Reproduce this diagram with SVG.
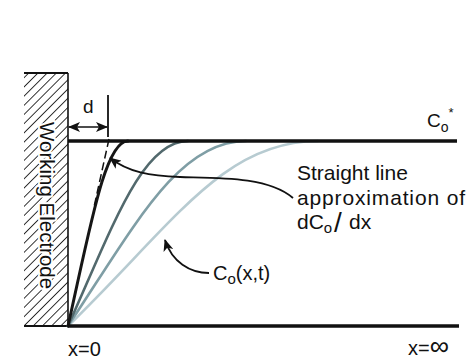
<svg xmlns="http://www.w3.org/2000/svg" width="474" height="363" viewBox="0 0 474 363">
<style>
text{font-family:"Liberation Sans",Arial,sans-serif;fill:#111}
.axis{stroke:#111;stroke-width:3.5;fill:none}
.curve{fill:none;stroke-linecap:round}
.lead{fill:none;stroke:#111;stroke-width:1.8}
</style>
<defs>
<pattern id="hatch" patternUnits="userSpaceOnUse" width="6.5" height="6.5" patternTransform="rotate(45)">
<line x1="0" y1="0" x2="0" y2="6.5" stroke="#111" stroke-width="1.7"/>
</pattern>
<marker id="ah" viewBox="0 0 12 10" refX="11" refY="5" markerWidth="12" markerHeight="10" markerUnits="userSpaceOnUse" orient="auto-start-reverse">
<path d="M0,0 L12,5 L0,10 L3,5 z" fill="#111"/>
</marker>
</defs>
<g id="electrode">
<rect x="24" y="73" width="44" height="253" fill="url(#hatch)"/>
<line x1="24" y1="73" x2="68" y2="73" stroke="#111" stroke-width="1.8"/>
<line x1="68" y1="73" x2="68" y2="326" stroke="#111" stroke-width="1.6"/>
<line x1="24" y1="326" x2="68" y2="326" stroke="#111" stroke-width="2"/>
<text transform="translate(40,122) rotate(90)" font-size="20.5" stroke="#fff" stroke-width="4" stroke-linejoin="round" paint-order="stroke">Working Electrode</text>
</g>
<g id="profiles">
<path class="curve" d="M68,326 C173,224.3 223,141 318,141" stroke="#b7cbd1" stroke-width="2.6"/>
<path class="curve" d="M68,326 C135.6,224.3 178.4,141 246,141" stroke="#7f9ea5" stroke-width="2.6"/>
<path class="curve" d="M68,326 C113.6,224.3 142.4,141 188,141" stroke="#52696d" stroke-width="2.6"/>
<path class="curve" d="M68,326 C90.8,224.3 105.2,141 128,141" stroke="#161616" stroke-width="3"/>
<line x1="109" y1="139" x2="94" y2="207" stroke="#111" stroke-width="1.5" stroke-dasharray="8,4"/>
</g>
<g id="axes">
<line class="axis" x1="68" y1="141" x2="457" y2="141"/>
<line class="axis" x1="68" y1="326" x2="459" y2="326"/>
</g>
<g id="d-marker">
<line x1="108" y1="95" x2="108" y2="137" stroke="#111" stroke-width="1.8"/>
<line x1="69" y1="127" x2="107" y2="127" stroke="#111" stroke-width="1.6" marker-start="url(#ah)" marker-end="url(#ah)"/>
<text x="83" y="113" font-size="19">d</text>
</g>
<g id="connectors">
<path class="lead" d="M293,198 C268,176 215,178 180,177 C150,176 128,172 110,158" marker-end="url(#ah)"/>
<path class="lead" d="M209,273 C190,273 172,262 165,240" marker-end="url(#ah)"/>
</g>
<g id="label-cstar">
<text x="427" y="127" font-size="19">C<tspan font-size="14" dy="5">o</tspan><tspan font-size="13" dy="-15">*</tspan></text>
</g>
<g id="label-approx">
<text x="297" y="180" font-size="21">Straight line</text>
<text x="297" y="205" font-size="21" textLength="168" lengthAdjust="spacing">approximation of</text>
<text x="297" y="229" font-size="21">dC<tspan font-size="15" dy="4">o</tspan></text>
<text x="334" y="232" font-size="28">/</text>
<text x="349" y="229" font-size="21">dx</text>
</g>
<g id="label-cxt">
<text x="213" y="280" font-size="20">C<tspan font-size="15" dy="4">o</tspan><tspan dy="-4">(x,t)</tspan></text>
</g>
<g id="label-x">
<text x="68" y="356" font-size="20">x=0</text>
<text x="408" y="355" font-size="20">x=<tspan font-size="27">∞</tspan></text>
</g>
</svg>
